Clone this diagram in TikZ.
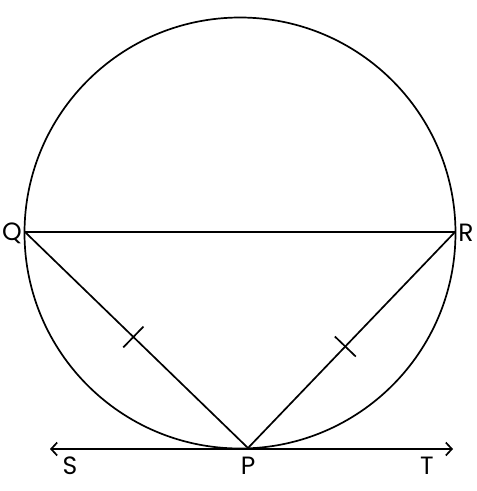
\documentclass[tikz,border=0pt]{standalone}
\usepackage{fontspec}
\setmainfont{Poppins}
\usetikzlibrary{arrows.meta,calc}
\tikzset{
  geo/.style={line width=1.7pt, black},
  lbl/.style={font=\fontsize{25}{27}\selectfont, inner sep=0pt},
  tick/.style={line width=1.7pt, black},
  barb/.style={line width=1.7pt, {Straight Barb[length=6pt,width=13pt]}-{Straight Barb[length=6pt,width=13pt]}}
}
\begin{document}
\begin{tikzpicture}[x=1pt,y=-1pt]
\useasboundingbox (0,0) rectangle (477,491);
\coordinate (O) at (240,233);
\coordinate (Q) at (25,232);
\coordinate (R) at (455,232);
\coordinate (P) at (248,448);
\coordinate (Send) at (50,449);
\coordinate (Tend) at (453,449);
\draw[geo] (O) circle[radius=215.5];
\draw[geo] (Q) -- (R);
\draw[geo] (Q) -- (P) -- (R);
\draw[barb] (Send) -- (Tend);
% ticks
\coordinate (m1) at ($(Q)!0.486!(P)$);
\coordinate (m2) at ($(R)!0.53!(P)$);
\draw[tick] ($(m1)!14.5pt!90:(P)$) -- ($(m1)!14.5pt!-90:(P)$);
\draw[tick] ($(m2)!14.5pt!90:(P)$) -- ($(m2)!14.5pt!-90:(P)$);
\node[lbl] (lQ) at (12,233) {Q};
\node[lbl] (lR) at (466,233) {R};
\node[lbl] (lS) at (70,466) {S};
\node[lbl] (lP) at (248,466) {P};
\node[lbl] (lT) at (427,466) {T};
\end{tikzpicture}
\end{document}
